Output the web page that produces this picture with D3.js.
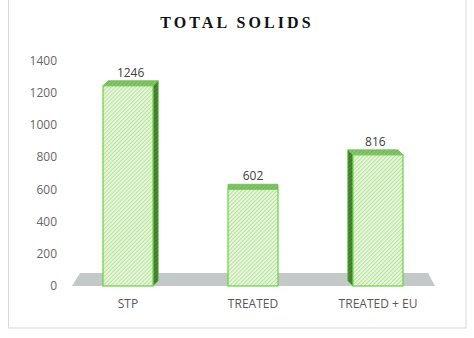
<!DOCTYPE html>
<html><head><meta charset="utf-8">
<script src="https://cdn.jsdelivr.net/npm/d3@7"></script>
<style>body{margin:0;background:#fff}</style>
</head><body>
<svg id="c" width="474" height="338"></svg>
<script>
const categories = ["STP", "TREATED", "TREATED + EU"];
const values = [1246, 602, 816];
const yTicks = [0, 200, 400, 600, 800, 1000, 1200, 1400];
const title = "TOTAL SOLIDS";

const svg = d3.select("#c");
const defs = svg.append("defs");
function hatch(id, bg, line, w) {
  const p = defs.append("pattern").attr("id", id).attr("patternUnits", "userSpaceOnUse")
    .attr("width", 2.8).attr("height", 2.8).attr("patternTransform", "rotate(45)");
  p.append("rect").attr("width", 2.8).attr("height", 2.8).attr("fill", bg);
  p.append("line").attr("x1", 0).attr("y1", 0).attr("x2", 0).attr("y2", 2.8)
    .attr("stroke", line).attr("stroke-width", w);
}
hatch("hFront", "#e8f7dc", "#8fd26f", 1.1);
hatch("hTop", "#8fbe78", "#67a050", 1.1);
hatch("hSide", "#4d8638", "#2f5e22", 1.1);

svg.append("rect").attr("x", 8.5).attr("y", -2).attr("width", 457.5).attr("height", 330)
  .attr("fill", "none").attr("stroke", "#d9d9d9");

svg.append("text").attr("x", 237).attr("y", 28).attr("text-anchor", "middle")
  .attr("font-family", "Liberation Serif, DejaVu Serif, serif").attr("font-weight", "bold")
  .attr("font-size", 16).attr("letter-spacing", 3.1).attr("fill", "#111").text(title);

const y = d3.scaleLinear().domain([0, 1400]).range([286, 61]);
const x = d3.scaleBand().domain(categories).range([78, 428]).paddingInner(0.6).paddingOuter(0.2);

const floorDepth = 13;
svg.append("path").attr("fill", "#c3c8c8")
  .attr("d", `M72,286 L435,286 L428,${286 - floorDepth} L80,${286 - floorDepth} Z`);

svg.append("g").selectAll("text").data(yTicks).join("text")
  .attr("x", 57).attr("y", d => y(d) + 4).attr("text-anchor", "end")
  .attr("font-family", "Open Sans, Liberation Sans, sans-serif").attr("font-size", 12)
  .attr("fill", "#666").text(d => d);

const cx0 = 253, depthY = 5;
const g = svg.append("g");
categories.forEach((c, i) => {
  const x0 = x(c), x1 = x0 + x.bandwidth();
  const cx = (x0 + x1) / 2;
  const dx = -(cx - cx0) * 0.042;
  const yt = y(values[i]), yb = 286;
  if (dx > 0.5) {
    g.append("path").attr("fill", "url(#hSide)").attr("stroke", "#5dc93a").attr("stroke-width", 0.8)
      .attr("d", `M${x1},${yt} L${x1 + dx},${yt - depthY} L${x1 + dx},${yb - depthY} L${x1},${yb} Z`);
  } else if (dx < -0.5) {
    g.append("path").attr("fill", "url(#hSide)").attr("stroke", "#5dc93a").attr("stroke-width", 0.8)
      .attr("d", `M${x0},${yt} L${x0 + dx},${yt - depthY} L${x0 + dx},${yb - depthY} L${x0},${yb} Z`);
  }
  g.append("path").attr("fill", "url(#hTop)").attr("stroke", "#5dc93a").attr("stroke-width", 0.8)
    .attr("d", `M${x0},${yt} L${x0 + dx},${yt - depthY} L${x1 + dx},${yt - depthY} L${x1},${yt} Z`);
  g.append("rect").attr("x", x0).attr("y", yt).attr("width", x1 - x0).attr("height", yb - yt)
    .attr("fill", "url(#hFront)").attr("stroke", "#66d43f").attr("stroke-width", 1.2);
  g.append("text").attr("x", cx + dx / 2).attr("y", yt - depthY - 4).attr("text-anchor", "middle")
    .attr("font-family", "Open Sans, Liberation Sans, sans-serif").attr("font-size", 12)
    .attr("fill", "#404040").text(values[i]);
  g.append("text").attr("x", cx).attr("y", 308).attr("text-anchor", "middle")
    .attr("font-family", "Open Sans, Liberation Sans, sans-serif").attr("font-size", 12)
    .attr("fill", "#595959").text(c);
});
</script>
</body></html>
